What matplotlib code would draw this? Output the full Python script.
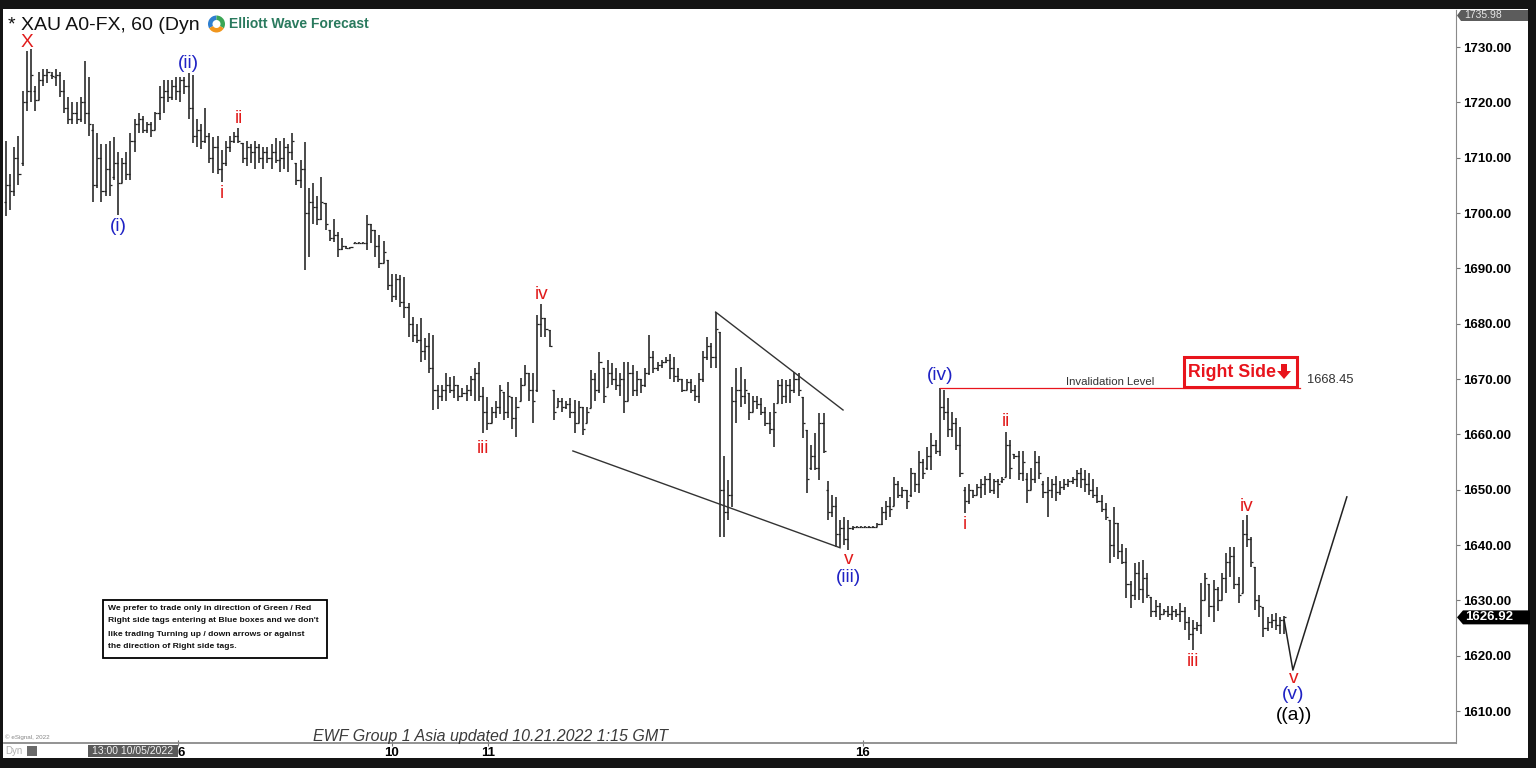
import numpy as np
import matplotlib
matplotlib.use("Agg")
import matplotlib.pyplot as plt
from matplotlib.patches import Rectangle, Polygon, Wedge
from matplotlib.transforms import Affine2D

plt.rcParams["font.family"] = ["Liberation Sans", "DejaVu Sans"]

# XAU hourly bars, bar 0 = 13:00 10/05/2022
highs = [1713, 1707, 1712, 1714, 1722, 1729.3, 1729.6, 1723, 1725.5, 1726,
         1726, 1725.5, 1726, 1725.5, 1724, 1721, 1720, 1720, 1721, 1727.5,
         1724.5, 1716, 1714.5, 1712.5, 1712.5, 1713, 1713.7, 1711, 1710, 1711,
         1714.5, 1717, 1718, 1717.5, 1716.5, 1716.5, 1718.3, 1723, 1724, 1724,
         1724, 1724.5, 1724.6, 1724.5, 1725.3, 1725, 1717, 1716, 1719, 1714.5,
         1713.7, 1714, 1711.4, 1713, 1714, 1714.6, 1715.3, 1712.6, 1713, 1712.5,
         1713, 1712.5, 1712, 1712, 1712.5, 1713.5, 1713, 1713.5, 1712.5, 1714.5,
         1709, 1709.5, 1712.8, 1704.5, 1705.4, 1703, 1706.5, 1701.8, 1697, 1699,
         1696.6, 1695.5, 1694, 1693.9, 1694.8, 1694.8, 1694.8, 1699.6, 1698, 1697,
         1696, 1695, 1691.5, 1689, 1689, 1688.8, 1688.4, 1683.7, 1681.2, 1680,
         1681, 1677.5, 1678.3, 1678, 1669, 1669, 1671, 1670.4, 1670.5, 1669,
         1668.4, 1669, 1670.5, 1672, 1673, 1668.5, 1666.8, 1665, 1666, 1669,
         1667.6, 1669.5, 1666.8, 1666.8, 1670.2, 1672.5, 1671, 1671, 1681.6, 1683.5,
         1681, 1678.9, 1668, 1666.5, 1666.5, 1666, 1666.6, 1666.2, 1666, 1665,
         1665, 1671.6, 1671, 1674.9, 1672, 1673.5, 1672.9, 1672, 1671, 1673,
         1673, 1672.5, 1671.5, 1670, 1672, 1678, 1675, 1673, 1673.5, 1674,
         1674.5, 1674, 1672, 1670, 1670, 1670, 1669, 1671, 1675, 1677.6,
         1676.5, 1682.1, 1678.5, 1656, 1651.7, 1668.6, 1672, 1672.2, 1670, 1667.5,
         1667, 1667, 1666.5, 1665, 1664, 1665.6, 1669.8, 1670, 1669.8, 1670,
         1671.3, 1671, 1666.8, 1660.8, 1658, 1660.2, 1663.8, 1663.8, 1651.5, 1649,
         1648.7, 1644.5, 1645, 1644.5, 1643.5, 1643.4, 1643.4, 1643.4, 1643.5, 1643.5,
         1644, 1646.9, 1648, 1648.7, 1652.3, 1651.5, 1650.5, 1650, 1654, 1653,
         1657, 1655.5, 1657.7, 1660.2, 1659, 1668.45, 1668, 1666.6, 1664, 1663,
         1661.3, 1650.5, 1651, 1650, 1651, 1652, 1652.5, 1653, 1652, 1652,
         1652.3, 1660.4, 1659, 1656.5, 1657, 1657, 1653, 1654, 1657, 1656,
         1651.5, 1652.3, 1652, 1652.5, 1651.5, 1652, 1652, 1652.3, 1653.5, 1654,
         1653.5, 1653, 1652, 1650.5, 1649, 1647.6, 1644.5, 1646.9, 1644, 1640.2,
         1639.4, 1633.5, 1636.7, 1637, 1637.3, 1635, 1630.6, 1630, 1629.5, 1628.5,
         1629, 1629, 1628.5, 1629.5, 1628.8, 1627, 1626.4, 1626, 1633.1, 1635,
         1633, 1633.7, 1632.5, 1635, 1638.6, 1639.6, 1639.6, 1634.2, 1644.5, 1645.4,
         1641.4, 1636, 1631, 1628.8, 1627, 1627.5, 1627.7, 1627, 1627.2]

lows = [1699.5, 1700.5, 1703, 1705, 1708.5, 1718.5, 1720, 1718.5, 1720.5, 1723,
        1723.5, 1724.3, 1723, 1721, 1718, 1716, 1716, 1716, 1716.5, 1716,
        1714, 1702, 1704.5, 1702, 1703, 1703, 1706, 1699.6, 1705.5, 1706,
        1706, 1711, 1714.5, 1714.5, 1714.5, 1713.8, 1715, 1716.8, 1718, 1720,
        1720.5, 1720.5, 1720, 1721.5, 1717, 1712.6, 1712, 1711.5, 1712.6, 1709,
        1707.2, 1707, 1705.6, 1708.5, 1711, 1712.6, 1712.6, 1709, 1708.5, 1709,
        1708, 1709, 1708, 1709, 1708, 1709, 1707.4, 1708, 1707.5, 1709.6,
        1705, 1704.5, 1689.7, 1692, 1698, 1697.8, 1698.7, 1697, 1695, 1694.8,
        1692, 1693.3, 1693.5, 1693.6, 1694.5, 1694.5, 1694.5, 1693.3, 1694.6, 1692,
        1690, 1691, 1686, 1684, 1684.3, 1683, 1681, 1677.6, 1676.7, 1676.5,
        1673, 1673.5, 1671, 1664.4, 1664.5, 1666, 1666, 1667.5, 1666.5, 1666,
        1666.8, 1666, 1667, 1666, 1666, 1660.2, 1660.8, 1662, 1663, 1663.6,
        1662.6, 1663, 1661, 1659.5, 1666, 1669, 1666, 1662, 1667.6, 1677.6,
        1677.6, 1675.8, 1662.6, 1665, 1664, 1664.5, 1663, 1660.2, 1662, 1659.9,
        1662, 1664.8, 1666, 1667.5, 1665.6, 1668.5, 1669, 1668, 1667, 1663.8,
        1666, 1667, 1667, 1667.5, 1668.5, 1670.7, 1671, 1671.5, 1672, 1672.9,
        1670, 1669.5, 1669.5, 1667.6, 1668, 1667.5, 1666, 1665.6, 1669.5, 1673.4,
        1672, 1672, 1641.4, 1641.4, 1644.5, 1646.9, 1662, 1665, 1665.5, 1662.6,
        1664, 1664.5, 1663.5, 1661.5, 1660, 1657.7, 1665.6, 1665.5, 1665.6, 1665.6,
        1667.5, 1667, 1659.4, 1649.4, 1653.5, 1653.5, 1651.7, 1656.6, 1644.5, 1645,
        1639.6, 1639.6, 1640, 1639.1, 1642.8, 1643.2, 1643.2, 1643.2, 1643.0, 1643.0,
        1643.2, 1643.6, 1644.5, 1645, 1647, 1648.5, 1648.5, 1646.5, 1648.7, 1649.5,
        1649.4, 1652, 1653.5, 1653.5, 1656.5, 1656, 1662.6, 1659.5, 1659.5, 1657.2,
        1652.3, 1645.8, 1647.5, 1648.5, 1649, 1648.5, 1649, 1649.4, 1649.3, 1648.5,
        1651.2, 1652.3, 1652, 1655.5, 1651.8, 1651.5, 1647.6, 1650, 1651.2, 1652,
        1648.5, 1645, 1648.5, 1648, 1649, 1650, 1650.5, 1651, 1650.5, 1650.3,
        1649.5, 1649, 1648.5, 1647.6, 1646, 1644.5, 1636.7, 1637.8, 1637.5, 1636.6,
        1630.4, 1628.6, 1630, 1630, 1629.5, 1630.5, 1627, 1627, 1626.4, 1627.5,
        1627, 1626.5, 1627, 1626, 1624.6, 1622.8, 1621, 1624.5, 1624, 1630,
        1627, 1626.1, 1628, 1630, 1631.3, 1634.2, 1632, 1629.5, 1631.3, 1639.6,
        1636, 1628.2, 1627, 1623.4, 1624.5, 1625, 1624.6, 1624, 1624]

opens = [1702, 1705, 1704, 1710, 1709, 1720, 1722, 1722, 1720.5, 1724,
         1725, 1725, 1724.5, 1725, 1722, 1719, 1717, 1718, 1717, 1720,
         1718, 1715, 1705, 1710, 1704, 1708, 1706.5, 1709, 1705.5, 1709,
         1707, 1713, 1716, 1717, 1715, 1716, 1715, 1718, 1721, 1722,
         1721, 1723, 1722, 1724, 1723, 1719, 1714, 1715, 1713, 1714,
         1710, 1712, 1708, 1709, 1712, 1713, 1714, 1712.6, 1710, 1712,
         1711, 1712, 1710, 1711, 1710, 1711, 1709.5, 1710, 1712, 1711,
         1709, 1706, 1708, 1700, 1702, 1701, 1699, 1701.8, 1697, 1695.5,
         1696, 1693.5, 1694, 1693.7, 1694.6, 1694.6, 1694.6, 1694.6, 1698, 1697,
         1694, 1691, 1691.5, 1687, 1685, 1688, 1684, 1683, 1680, 1678,
         1677, 1675, 1676, 1672, 1668, 1667, 1668, 1669, 1668, 1669,
         1667, 1667.5, 1668, 1670, 1671, 1667, 1664, 1662, 1664, 1665,
         1667.6, 1664, 1666.8, 1663, 1666, 1669, 1671, 1668, 1668, 1680,
         1681, 1678.9, 1668, 1665, 1666, 1665, 1665.5, 1664, 1662, 1665,
         1662, 1664.8, 1670, 1668, 1672, 1668.5, 1671, 1670, 1669, 1670,
         1666, 1671, 1668, 1670, 1669, 1671, 1674, 1672, 1672.5, 1673,
         1673.5, 1672, 1670.5, 1670, 1668, 1669.5, 1668, 1667, 1670, 1674,
         1676, 1674, 1678.5, 1650, 1646, 1649, 1666, 1668, 1667, 1667.5,
         1664, 1666, 1665.5, 1664, 1662, 1661, 1665.6, 1669, 1667, 1669,
         1668, 1670, 1666.8, 1660.8, 1654, 1656, 1654, 1662, 1650, 1646,
         1647, 1642, 1643, 1641, 1643, 1643.3, 1643.3, 1643.3, 1643.2, 1643.2,
         1643.3, 1643.8, 1646, 1647, 1647, 1651, 1649, 1650, 1649, 1653,
         1651, 1655, 1654, 1656, 1658, 1657, 1665, 1664, 1661, 1662,
         1658, 1650, 1648, 1650, 1649, 1650.5, 1651, 1652, 1650, 1651.5,
         1651.5, 1652.3, 1658, 1656.5, 1656, 1653, 1652, 1650, 1652, 1655,
         1651, 1649.5, 1650, 1651, 1649.5, 1650.5, 1651, 1651.5, 1652, 1653,
         1652, 1651, 1650, 1649, 1648, 1646.5, 1644.5, 1640, 1644, 1639,
         1637, 1633, 1631, 1635, 1632, 1634, 1630.6, 1628, 1629, 1627.5,
         1628, 1627.5, 1628, 1627.5, 1628, 1626, 1624, 1625, 1625.5, 1630,
         1633, 1629, 1632, 1630, 1634, 1637, 1638, 1633, 1631.3, 1642,
         1641, 1636, 1630, 1628.8, 1625, 1626, 1626.5, 1625.5, 1626.5]

closes = [1705, 1704, 1710, 1707, 1720, 1722, 1725, 1720.5, 1724, 1725,
          1725.5, 1724.8, 1725, 1722, 1719, 1717, 1718, 1717, 1720, 1718,
          1716, 1705, 1710, 1704, 1708, 1705, 1709, 1705.5, 1709, 1707,
          1713, 1716, 1717, 1715, 1716, 1715, 1718, 1721, 1722, 1721,
          1723, 1722, 1724, 1723, 1719, 1714, 1715, 1713, 1714, 1710,
          1712, 1708, 1709, 1712, 1713, 1714, 1713, 1710, 1712, 1711,
          1712, 1710, 1711, 1710, 1711, 1709.5, 1710, 1712, 1711, 1713,
          1706, 1708, 1700, 1702, 1701, 1699, 1702, 1698, 1695.5, 1696,
          1693.5, 1694, 1693.7, 1693.8, 1694.6, 1694.6, 1694.6, 1698, 1697, 1694,
          1691, 1693, 1687, 1685, 1688, 1684, 1683, 1680, 1678, 1677,
          1675, 1676, 1672, 1668, 1667, 1668, 1669, 1668, 1669, 1667,
          1667.5, 1668, 1670, 1671, 1667, 1664, 1662, 1664, 1665, 1668,
          1664, 1667, 1663, 1665, 1669, 1671, 1668, 1666, 1680, 1681,
          1679, 1676, 1664, 1666, 1665, 1665.5, 1664, 1662, 1665, 1661,
          1664, 1670, 1668, 1673, 1667, 1671, 1670, 1669, 1670, 1666,
          1671, 1668, 1670, 1669, 1671, 1674, 1672, 1672.5, 1673, 1673.5,
          1672, 1670.5, 1670, 1668, 1669.5, 1668, 1667, 1670, 1674, 1676,
          1674, 1679, 1650, 1646, 1649, 1666, 1668, 1667, 1668, 1664,
          1666, 1665.5, 1664, 1662, 1661, 1664, 1669, 1667, 1669, 1668,
          1670, 1668, 1662, 1652, 1656, 1654, 1662, 1657, 1646, 1647,
          1642, 1643, 1641, 1643, 1643.3, 1643.3, 1643.3, 1643.3, 1643.2, 1643.2,
          1643.8, 1646, 1647, 1646.5, 1651, 1649, 1650, 1648, 1653, 1651,
          1655, 1653, 1656, 1658, 1657, 1665, 1664, 1661, 1662, 1658,
          1653, 1648, 1650, 1649, 1650.5, 1651, 1652, 1650, 1651.5, 1651,
          1652, 1658, 1654, 1656, 1653, 1655, 1650, 1652, 1655, 1653,
          1649.5, 1650, 1651, 1649.5, 1650.5, 1651, 1651.5, 1652, 1653, 1652,
          1651, 1650, 1649, 1648, 1646.5, 1645, 1640, 1644, 1639, 1637,
          1633, 1631, 1635, 1632, 1634, 1631, 1628, 1629, 1627.5, 1628,
          1627.5, 1628, 1627.5, 1628, 1626, 1624, 1625, 1625.5, 1630, 1634,
          1629, 1632, 1630, 1634, 1637, 1638, 1633, 1631, 1642, 1641,
          1637, 1630, 1629, 1625, 1626, 1626.5, 1625.5, 1626.5, 1626.92]

# day separators (bar index) and their labels
day_ticks = [41.4, 93.0, 116.1, 206.5]
day_labels = ["6", "10", "11", "16"]

price_ticks = list(range(1610, 1731, 10))
last_price = 1626.92
top_price = 1735.98
invalidation = 1668.45

# drawn lines: wedge trendlines and projected path (bar index, price)
wedge_top_x, wedge_top_y = [171, 201.7], [1682.1, 1664.4]
wedge_bot_x, wedge_bot_y = [136.6, 201.0], [1657.0, 1639.5]
proj_x, proj_y = [308, 310.1, 323.1], [1626.4, 1617.4, 1648.7]
inval_x = [225, 311.8]

RED, BLUE = "#e11b1b", "#1f22c4"
# (text, bar, anchor, colour, offset in points)
wave_labels = [
    ("X", 5, "hi", RED, 6), ("(i)", 27, "lo", BLUE, -8), ("(ii)", 44, "hi", BLUE, 7),
    ("i", 52, "lo", RED, -8), ("ii", 56, "hi", RED, 7), ("iii", 115, "lo", RED, -11),
    ("iv", 129, "hi", RED, 7), ("v", 203, "lo", RED, -7), ("(iii)", 203, "lo", BLUE, -20),
    ("(iv)", 225, "hi", BLUE, 9), ("i", 231, "lo", RED, -8), ("ii", 241, "hi", RED, 8),
    ("iii", 286, "lo", RED, -8), ("iv", 299, "hi", RED, 6),
]
end_labels = [("v", RED, -6), ("(v)", BLUE, -17.5), ("((a))", "black", -32.5)]

W, H = 1536, 768
fig = plt.figure(figsize=(W / 100, H / 100), dpi=100, facecolor="#141414")
pix = Affine2D().scale(1 / W, -1 / H).translate(0, 1) + fig.transFigure

fig.patches.append(Rectangle((3, 9), 1525, 749, transform=pix, facecolor="white",
                             edgecolor="none", zorder=-5))

ax = fig.add_axes([4 / W, 1 - 743 / H, 1452 / W, 733 / H])
ax.set_facecolor("white")
ax.set_xlim(-0.48, 349.4)
ax.set_ylim(1604.22, 1736.69)

x = np.arange(len(highs))
bar_c = "#222222"
ax.vlines(x, lows, highs, color=bar_c, lw=1.15)
ax.hlines(opens, x - 0.5, x, color=bar_c, lw=0.9)
ax.hlines(closes, x, x + 0.5, color=bar_c, lw=0.9)

ax.plot(wedge_top_x, wedge_top_y, color="#333333", lw=1.0)
ax.plot(wedge_bot_x, wedge_bot_y, color="#333333", lw=1.0)
ax.plot(proj_x, proj_y, color="#222222", lw=1.1)
ax.plot(inval_x, [invalidation] * 2, color="#e8141c", lw=0.9)

for txt, i, side, col, off in wave_labels:
    y = highs[i] if side == "hi" else lows[i]
    ax.annotate(txt, (i, y), xytext=(0, off), textcoords="offset points",
                ha="center", va="center", color=col, fontsize=13.8)
for txt, col, off in end_labels:
    ax.annotate(txt, (proj_x[1], proj_y[1]), xytext=(0.5, off), textcoords="offset points",
                ha="center", va="center", color=col, fontsize=13.8)

ax.text(266, invalidation + 0.1, "Invalidation Level", ha="center", va="bottom",
        fontsize=8.2, color="#333333")
ax.text(313.5, invalidation + 1.3, f"{invalidation:.2f}", ha="left", va="center",
        fontsize=9.3, color="#333333")

for s in ("top", "left"):
    ax.spines[s].set_visible(False)
ax.spines["right"].set_color("#8a8a8a")
ax.spines["bottom"].set_color("#8a8a8a")
ax.spines["bottom"].set_linewidth(1.3)
ax.yaxis.tick_right()
ax.set_yticks(price_ticks)
ax.set_yticklabels([f"{v:.2f}" for v in price_ticks], fontsize=9.5, fontweight="bold")
ax.tick_params(axis="y", length=3, width=0.8, color="#777777", pad=2)
ax.set_xticks(day_ticks)
ax.set_xticklabels(day_labels, fontsize=9.5, fontweight="bold")
ax.get_xticklabels()[0].set_ha("left")  # first day label sits right of the date box
ax.tick_params(axis="x", length=4, width=0.8, color="#777777", direction="inout", pad=1)

# price tags on the right axis
fig.patches.append(Polygon([(1457, 15.5), (1461, 10), (1528, 10), (1528, 21), (1461, 21)],
                           closed=True, transform=pix, facecolor="#5c5c5c", edgecolor="none"))
fig.text(1464, 15.5, f"{top_price:.2f}", transform=pix, fontsize=7.5, color="#e6e6e6",
         va="center", ha="left")
y_last = 47 + (1730 - last_price) * 664 / 120
fig.patches.append(Polygon([(1457, y_last), (1463, y_last - 7), (1530, y_last - 7),
                            (1530, y_last + 7), (1463, y_last + 7)],
                           closed=True, transform=pix, facecolor="black", edgecolor="none"))
fig.text(1465, y_last, f"{last_price:.2f}", transform=pix, fontsize=9.5, color="white",
         fontweight="bold", va="center", ha="left")

# header
fig.text(8, 25, "* XAU A0-FX, 60 (Dyn", transform=pix, fontsize=14, va="center",
         ha="left", color="#111111")
for t1, t2, c in [(90, 210, "#2f7fd0"), (-30, 90, "#3aa655"), (210, 330, "#f0961e")]:
    fig.patches.append(Wedge((216.5, 24), 8.5, -t2, -t1, width=4.5, transform=pix,
                             facecolor=c, edgecolor="none"))
fig.text(229, 24, "Elliott Wave Forecast", transform=pix, fontsize=10, fontweight="bold",
         color="#2a7a5e", va="center", ha="left")

# right side tag
fig.patches.append(Rectangle((1184, 357), 113, 30, transform=pix, facecolor="white",
                             edgecolor="#e8141c", lw=2.2))
fig.text(1188, 372.5, "Right Side", transform=pix, fontsize=12.8, fontweight="bold",
         color="#e8141c", va="center", ha="left")
fig.patches.append(Polygon([(1281, 364), (1287, 364), (1287, 371), (1291, 371), (1284, 379),
                            (1277, 371), (1281, 371)], closed=True, transform=pix,
                           facecolor="#e8141c", edgecolor="none"))

# note box
fig.patches.append(Rectangle((103, 600), 224, 58, transform=pix, facecolor="white",
                             edgecolor="black", lw=1.3))
note = ["We prefer to trade only in direction of Green / Red",
        "Right side tags entering at Blue boxes and we don't",
        "like trading Turning up / down arrows or against",
        "the direction of Right side tags."]
for k, line in enumerate(note):
    fig.text(108, 608 + 13 * k, line, transform=pix, fontsize=6.1, fontweight="bold",
             va="center", ha="left", color="#111111")

# footer
fig.text(5, 737, "\u00a9 eSignal, 2022", transform=pix, fontsize=4.5, color="#888888",
         va="center", ha="left")
fig.text(313, 736, "EWF Group 1 Asia updated 10.21.2022 1:15 GMT", transform=pix,
         fontsize=11.5, style="italic", color="#3a3a3a", va="center", ha="left")
fig.text(5, 751, "Dyn", transform=pix, fontsize=7, color="#b0b0b0", va="center", ha="left")
fig.patches.append(Rectangle((27, 746), 10, 10, transform=pix, facecolor="#6a6a6a",
                             edgecolor="none"))
fig.patches.append(Rectangle((88, 745), 90, 12, transform=pix, facecolor="#5a5a5a",
                             edgecolor="none"))
fig.text(133, 751, "13:00 10/05/2022", transform=pix, fontsize=7.5, color="#f0f0f0",
         va="center", ha="center")

fig.savefig("out.png", dpi=100, facecolor=fig.get_facecolor())
